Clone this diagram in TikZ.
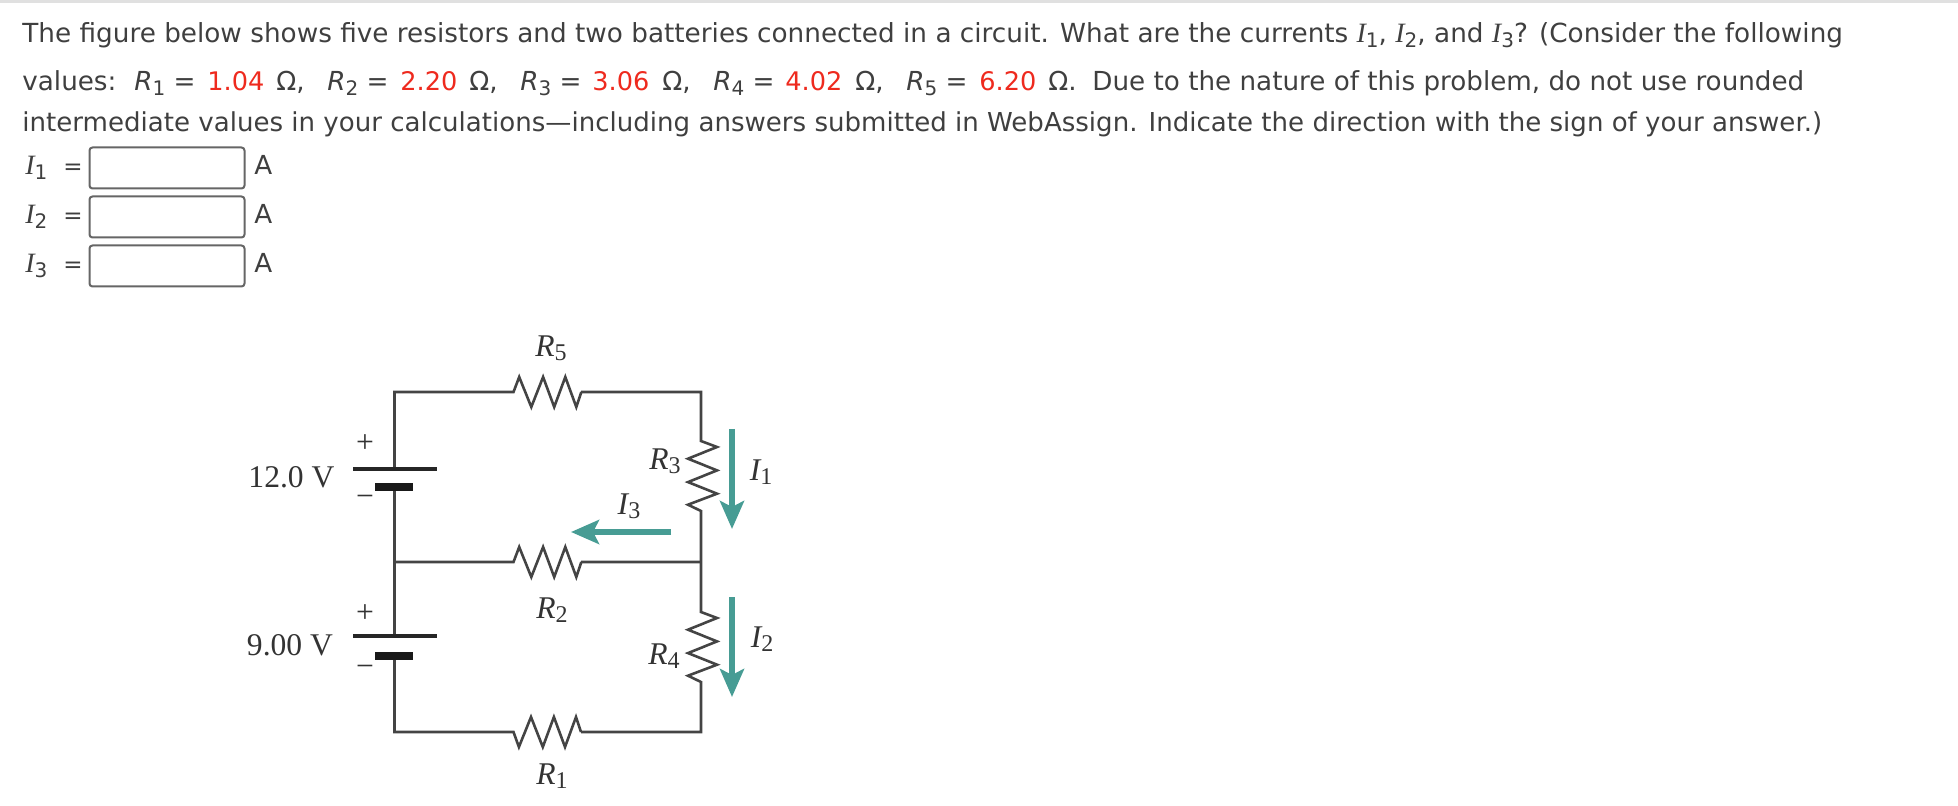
\documentclass[tikz,border=0pt]{standalone}
\usepackage{fontspec}
\setmainfont{DejaVu Sans}
\newfontfamily\serifF{Liberation Serif}
\definecolor{txt}{HTML}{3F3F3F}
\definecolor{redv}{HTML}{EE2A1E}
\definecolor{teal2}{HTML}{479C94}
\definecolor{wire}{HTML}{444444}
\newcommand{\mysub}[1]{\raisebox{-0.32ex}{\fontsize{10}{10}\selectfont #1}}
\newcommand{\Iv}[1]{{\serifF\itshape\fontsize{14}{14}\selectfont I}\mysub{#1}}
\newcommand{\Rv}[1]{\textit{R}\mysub{#1}}
\newcommand{\Rc}[1]{{\itshape R}{\fontsize{12}{10}\selectfont\raisebox{-0.4ex}{\upshape #1}}}
\newcommand{\Ic}[1]{{\itshape I}{\fontsize{12}{10}\selectfont\raisebox{-0.4ex}{\upshape #1}}}
\newcommand{\hzig}{-- ++(5.7,15) -- ++(12.1,-30) -- ++(11.8,30) -- ++(11.1,-30) -- ++(11.1,30) -- ++(11,-30) -- ++(5,15)}
\newcommand{\vzig}{-- ++(16,-6) -- ++(-29,-11.7) -- ++(29,-11.7) -- ++(-29,-11.7) -- ++(29,-11.6) -- ++(-29,-11) -- ++(13,-6.3)}
\usetikzlibrary{arrows.meta}
\tikzset{
 x=0.5pt,y=0.5pt,
 t/.style={anchor=base west,inner sep=0pt,text=txt,font=\fontsize{13.1}{15}\selectfont},
 rv/.style={t,text=redv,font=\fontsize{12.8}{15}\selectfont},
 ansbox/.style={draw=black!60,line width=1pt,rounded corners=1.5pt,minimum width=77.5pt,minimum height=20.5pt,inner sep=0pt,anchor=north west},
 lab/.style={inner sep=0pt,text=black!80,font=\serifF\fontsize{15.8}{16}\selectfont},
 wr/.style={draw=wire,line width=1.3pt,line join=miter},
 thin plate/.style={draw=black!85,line width=1.8pt},
 thick plate/.style={draw=black!90,line width=4pt},
 cur/.style={draw=teal2,line width=2.8pt,-{Stealth[length=14pt,width=12pt,inset=3pt]}},
}
\begin{document}
\begin{tikzpicture}
\useasboundingbox (0,0) rectangle (1958,-806);
\fill[black!12] (0,0) rectangle (1958,-3);
% question text
\node[t,font=\fontsize{13.14}{15}\selectfont] (l1) at (22,-43) {The figure below shows five resistors and two batteries connected in a circuit. What are the currents \Iv{1}, \Iv{2}, and \Iv{3}? (Consider the following};
\node[t] (v0) at (22,-91) {values:};
\node[t] (v1) at (134,-91) {\Rv{1} =};
\node[rv] (n1) at (207,-91) {1.04};
\node[t] (o1) at (276,-91) {Ω,};
\node[t] (v2) at (327,-91) {\Rv{2} =};
\node[rv] (n2) at (400,-91) {2.20};
\node[t] (o2) at (469,-91) {Ω,};
\node[t] (v3) at (520,-91) {\Rv{3} =};
\node[rv] (n3) at (592,-91) {3.06};
\node[t] (o3) at (662,-91) {Ω,};
\node[t] (v4) at (713,-91) {\Rv{4} =};
\node[rv] (n4) at (785,-91) {4.02};
\node[t] (o4) at (855,-91) {Ω,};
\node[t] (v5) at (906,-91) {\Rv{5} =};
\node[rv] (n5) at (979,-91) {6.20};
\node[t] (o5) at (1048,-91) {Ω.};
\node[t] (l2) at (1092,-91) {Due to the nature of this problem, do not use rounded};
\node[t,font=\fontsize{13.03}{15}\selectfont] (l3) at (22,-132) {intermediate values in your calculations—including answers submitted in WebAssign. Indicate the direction with the sign of your answer.)};
% answers
\foreach \k/\yb in {1/146,2/195,3/244}{
 \node[t] (i\k) at (25,-\yb-29) {\Iv{\k}};
 \node[t,font=\fontsize{11.5}{15}\selectfont] (e\k) at (63,-\yb-29) {=};
 \node[ansbox] (b\k) at (88.5,-\yb-0.5) {};
 \node[t] (a\k) at (254,-\yb-29) {A};
}
% circuit corners
\coordinate (tl) at (394.5,-392);
\coordinate (tr) at (701,-392);
\coordinate (ml) at (394.5,-562);
\coordinate (mr) at (701,-562);
\coordinate (bl) at (394.5,-732);
\coordinate (br) at (701,-732);
\coordinate (r5a) at (513.5,-392);
\coordinate (r5b) at (581,-392);
\coordinate (r2a) at (513.5,-562);
\coordinate (r2b) at (581,-562);
\coordinate (r1a) at (513.5,-732);
\coordinate (r1b) at (581,-732);
\coordinate (r3a) at (701,-441);
\coordinate (r3b) at (701,-511);
\coordinate (r4a) at (701,-612);
\coordinate (r4b) at (701,-681);
\coordinate (e1a) at (394.5,-469);
\coordinate (e1b) at (394.5,-487);
\coordinate (e2a) at (394.5,-636);
\coordinate (e2b) at (394.5,-656);
% wires
\draw[wr] (e1a) -- (tl) -- (r5a) \hzig -- (r5b) -- (tr) -- (r3a) \vzig -- (r3b) -- (mr) -- (r4a) \vzig -- (r4b) -- (br) -- (r1b);
\draw[wr] (r1b) -- ++(-5,15) -- ++(-11,-30) -- ++(-11.1,30) -- ++(-11.1,-30) -- ++(-11.8,30) -- ++(-12.1,-30) -- (r1a) -- (bl) -- (e2b);
\draw[wr] (e1b) -- (ml) -- (e2a);
\draw[wr] (ml) -- (r2a) \hzig -- (r2b) -- (mr);
% batteries
\draw[thin plate] (353,-469) -- (437,-469);
\draw[thick plate] (375,-487) -- (413,-487);
\draw[thin plate] (353,-636) -- (437,-636);
\draw[thick plate] (375,-656) -- (413,-656);
% labels
\node[lab] (b1v) at (291.5,-477) {12.0 V};
\node[lab] (b2v) at (290,-645) {9.00 V};
\node[lab] (p1) at (365,-444) {+};
\node[lab] (m1) at (365,-501) {−};
\node[lab] (p2) at (365,-614) {+};
\node[lab] (m2) at (365,-671) {−};
\node[lab] (R5) at (551,-348) {\Rc{5}};
\node[lab] (R2) at (552,-610) {\Rc{2}};
\node[lab] (R1) at (552,-776) {\Rc{1}};
\node[lab] (R3) at (665,-461) {\Rc{3}};
\node[lab] (R4) at (664,-656) {\Rc{4}};
\node[lab] (I1) at (761,-472) {\Ic{1}};
\node[lab] (I2) at (762,-639) {\Ic{2}};
\node[lab] (I3) at (629,-506) {\Ic{3}};
% current arrows
\coordinate (c1a) at (732,-429); \coordinate (c1b) at (732,-529);
\coordinate (c2a) at (732,-597); \coordinate (c2b) at (732,-697);
\coordinate (c3a) at (671,-532); \coordinate (c3b) at (571,-532);
\draw[cur] (c1a) -- (c1b);
\draw[cur] (c2a) -- (c2b);
\draw[cur] (c3a) -- (c3b);
\end{tikzpicture}
\end{document}
